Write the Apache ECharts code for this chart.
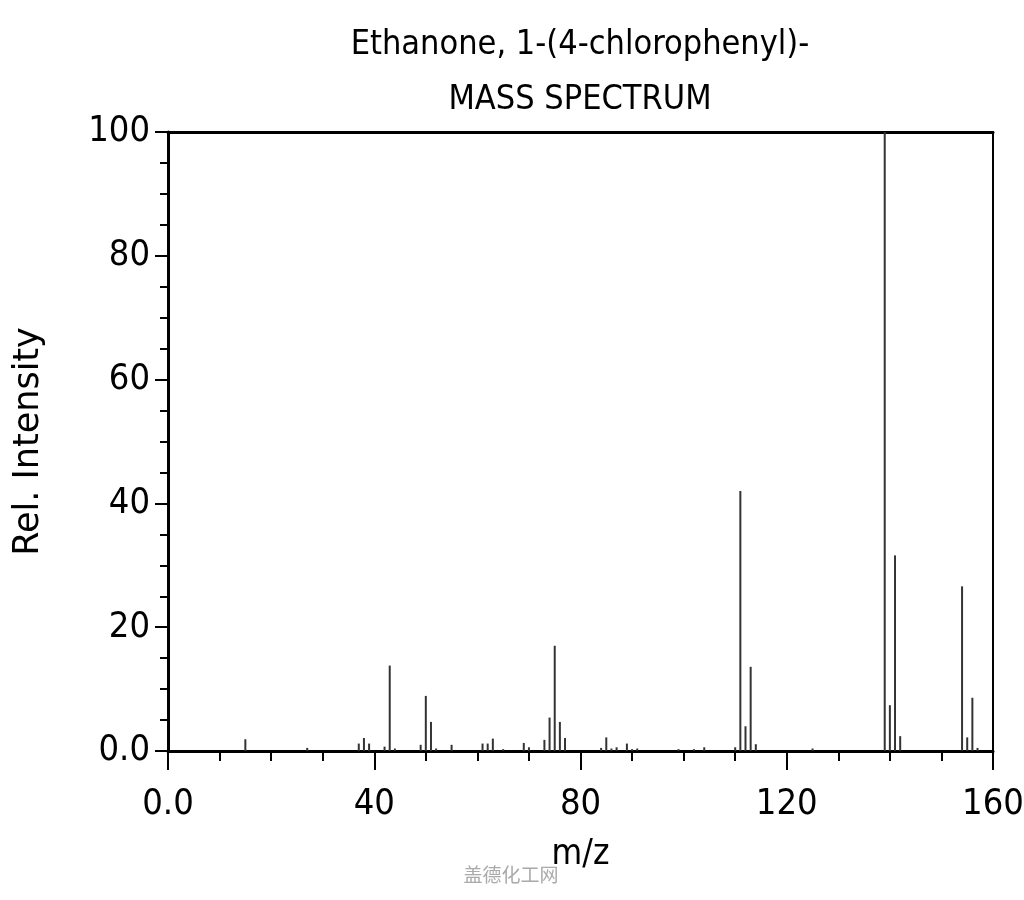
<html>
<head>
  <meta charset="utf-8">
  <title>Ethanone, 1-(4-chlorophenyl)- mass spectrum</title>
  <script src="https://cdn.jsdelivr.net/npm/echarts@6/dist/echarts.min.js"></script>
<style>
  body { margin: 0; background-color: white }
</style>
  <script type="text/javascript">

    // peaks: m/z and relative intensity
    var mz = [15, 27, 37, 38, 39, 42, 43, 44, 49, 50, 51, 52, 55,
              61, 62, 63, 65, 69, 70, 73, 74, 75, 76, 77,
              84, 85, 86, 87, 89, 90, 91, 99, 102, 104,
              110, 111, 112, 113, 114, 125,
              139, 140, 141, 142, 154, 155, 156, 157];
    var intensity = [1.9, 0.5, 1.2, 2.1, 1.2, 0.7, 13.8, 0.4, 1.0, 8.9, 4.7, 0.4, 1.0,
                     1.2, 1.2, 2.0, 0.3, 1.3, 0.6, 1.8, 5.4, 17.0, 4.7, 2.1,
                     0.5, 2.2, 0.4, 0.6, 1.2, 0.3, 0.4, 0.3, 0.3, 0.6,
                     0.6, 42.0, 4.0, 13.6, 1.1, 0.4,
                     100, 7.4, 31.6, 2.4, 26.6, 2.2, 8.6, 0.5];

    var xTicks = [0, 40, 80, 120, 160];
    var yTicks = [0, 20, 40, 60, 80, 100];

    var titleLines = ["Ethanone, 1-(4-chlorophenyl)-", "MASS SPECTRUM"];
    var xName = "m/z";
    var yName = "Rel. Intensity";
    var watermark = "盖德化工网";

    const FONT = "'DejaVu Sans Condensed', 'DejaVu Sans', sans-serif";

    function init() {
      var chart = echarts.init(document.getElementById('main'), null, {renderer: "canvas"});

      let pairs = mz.map((m, i) => [m, intensity[i]]);
      let fmt = (v) => (v === 0 ? "0.0" : String(v));

      let option = {
        animation: false,
        backgroundColor: "#fff",
        grid: { left: 168, right: 31, top: 132, bottom: 149,
                containLabel: false, outerBoundsMode: "none",
                show: true, borderColor: "#000", borderWidth: 2 },
        graphic: [
          { type: "text", x: 580, y: 45,
            style: { text: titleLines[0], font: "34px " + FONT, fill: "#000",
                     textAlign: "center", textVerticalAlign: "middle" } },
          { type: "text", x: 580, y: 100,
            style: { text: titleLines[1], font: "34px " + FONT, fill: "#000",
                     textAlign: "center", textVerticalAlign: "middle" } },
          { type: "text", x: 511, y: 875,
            style: { text: watermark, font: "19px 'Noto Sans CJK SC'", fill: "#aaa",
                     textAlign: "center", textVerticalAlign: "middle" } }
        ],
        xAxis: [
          { type: "value", min: xTicks[0], max: xTicks[xTicks.length - 1], interval: 40,
            name: xName, nameLocation: "middle", nameGap: 86,
            nameTextStyle: { fontFamily: FONT, fontSize: 35, color: "#000" },
            axisLine: { lineStyle: { color: "#000", width: 3 } },
            axisTick: { length: 19, lineStyle: { width: 2, color: "#000" } },
            minorTick: { show: true, splitNumber: 4, length: 10,
                         lineStyle: { width: 2, color: "#000" } },
            axisLabel: { margin: 36, fontFamily: FONT, fontSize: 36, color: "#000",
                         formatter: fmt },
            splitLine: { show: false } },
          { type: "value", position: "top", min: 0, max: 160,
            axisLine: { show: true, lineStyle: { color: "#000", width: 3 } },
            axisTick: { show: false }, axisLabel: { show: false },
            splitLine: { show: false } }
        ],
        yAxis: {
          type: "value", min: yTicks[0], max: yTicks[yTicks.length - 1], interval: 20,
          name: yName, nameLocation: "middle", nameRotate: 90, nameGap: 122,
          nameTextStyle: { fontFamily: "'DejaVu Sans', sans-serif", fontSize: 35, color: "#000" },
          axisLine: { show: true, lineStyle: { color: "#000", width: 3 } },
          axisTick: { length: 13, lineStyle: { width: 2, color: "#000" } },
          minorTick: { show: true, splitNumber: 4, length: 8,
                       lineStyle: { width: 2, color: "#000" } },
          axisLabel: { margin: 18, fontFamily: FONT, fontSize: 36, color: "#000",
                       formatter: fmt },
          splitLine: { show: false }
        },
        series: [
          { type: "bar", xAxisIndex: 0, data: pairs, barWidth: 2,
            itemStyle: { color: "#333" } }
        ]
      };
      chart.setOption(option);
    }

  </script>
</head>
<body onload="init();">
  <div id="main" style="width: 1024px; height: 900px;"></div>
</body>
</html>
